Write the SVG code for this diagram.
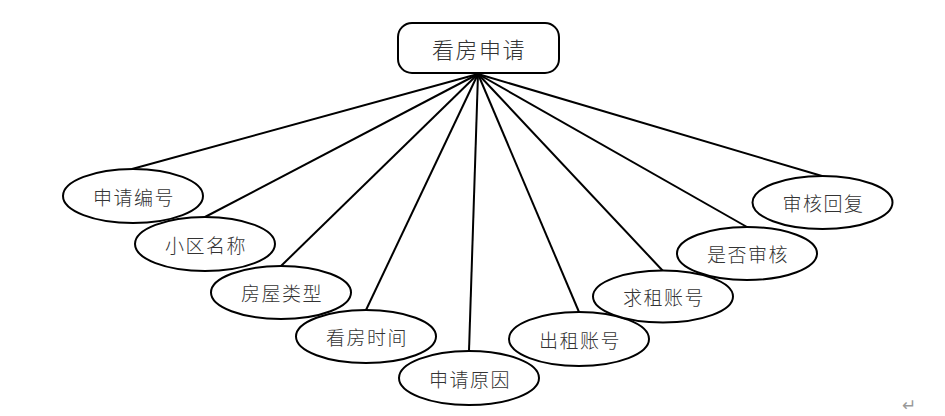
<svg xmlns="http://www.w3.org/2000/svg" width="945" height="416" viewBox="0 0 945 416">
<style>
.n{fill:#fff;stroke:#000;stroke-width:2}
.t{font-family:"Noto Sans CJK SC","Noto Sans",sans-serif;font-size:19px;font-weight:300;letter-spacing:1.5px;fill:#333;text-anchor:middle;dominant-baseline:central}
.c line{stroke:#000;stroke-width:2}
</style>
<rect width="945" height="416" fill="#fff"/>
<g class="c" id="connectors">
<line x1="478" y1="74" x2="132" y2="169"/>
<line x1="478" y1="74" x2="205" y2="217"/>
<line x1="478" y1="74" x2="281" y2="266"/>
<line x1="478" y1="74" x2="366" y2="310"/>
<line x1="478" y1="74" x2="469" y2="351"/>
<line x1="478" y1="74" x2="579" y2="312"/>
<line x1="478" y1="74" x2="663" y2="271"/>
<line x1="478" y1="74" x2="747" y2="227"/>
<line x1="478" y1="74" x2="822" y2="176"/>
</g>
<g id="root"><rect class="n" x="398" y="23" width="161" height="50" rx="14"/><text class="t" x="479" y="48" style="font-size:22px">看房申请</text></g>
<g id="n1"><ellipse class="n" cx="133" cy="196" rx="70" ry="27"/><text class="t" x="134" y="196">申请编号</text></g>
<g id="n2"><ellipse class="n" cx="205" cy="244" rx="70" ry="27"/><text class="t" x="206" y="244">小区名称</text></g>
<g id="n3"><ellipse class="n" cx="281" cy="292.5" rx="70" ry="26.5"/><text class="t" x="282" y="292.5">房屋类型</text></g>
<g id="n4"><ellipse class="n" cx="366" cy="336.5" rx="70" ry="26.5"/><text class="t" x="367" y="336.5">看房时间</text></g>
<g id="n5"><ellipse class="n" cx="469" cy="378" rx="70" ry="27"/><text class="t" x="470" y="378">申请原因</text></g>
<g id="n6"><ellipse class="n" cx="579" cy="339" rx="70" ry="27"/><text class="t" x="580" y="339">出租账号</text></g>
<g id="n7"><ellipse class="n" cx="663" cy="296.5" rx="70" ry="26"/><text class="t" x="664" y="296.5">求租账号</text></g>
<g id="n8"><ellipse class="n" cx="747" cy="253.5" rx="70" ry="26.5"/><text class="t" x="748" y="253.5">是否审核</text></g>
<g id="n9"><ellipse class="n" cx="822.5" cy="202.5" rx="70" ry="26.5"/><text class="t" x="823.5" y="202.5">审核回复</text></g>
<text x="909" y="405" style="font-family:'DejaVu Sans',sans-serif;font-size:17px;fill:#999;text-anchor:middle;dominant-baseline:central">↵</text>
</svg>
